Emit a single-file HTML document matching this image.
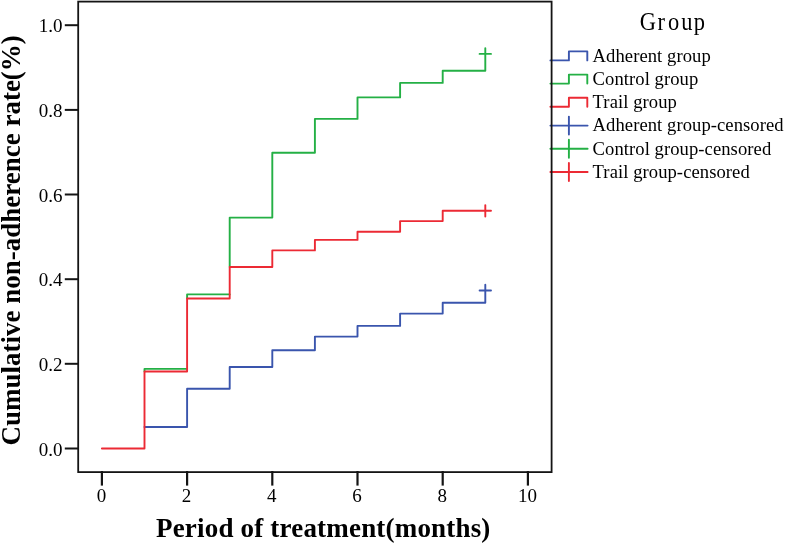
<!DOCTYPE html>
<html><head><meta charset="utf-8"><style>
html,body{margin:0;padding:0;background:#fff;}
svg{display:block;}
.t{font-family:"Liberation Serif",serif;font-size:19px;fill:#000;}
.lg{font-family:"Liberation Serif",serif;font-size:18.6px;letter-spacing:0.07px;fill:#000;}
.ti{font-family:"Liberation Serif",serif;font-size:27px;font-weight:bold;fill:#000;}
.gr{font-family:"Liberation Serif",serif;font-size:25.5px;fill:#000;}
</style></head><body>
<svg width="785" height="543" viewBox="0 0 785 543">
<rect width="785" height="543" fill="#fff"/>
<path d="M550.4 60.4 H568.9 V51.4 H587.3 V60.4" stroke="#3a55ad" stroke-width="1.9" stroke-linecap="round" stroke-linejoin="round" fill="none"/><path d="M550.4 83.6 H568.9 V74.6 H587.3 V83.6" stroke="#24b045" stroke-width="1.9" stroke-linecap="round" stroke-linejoin="round" fill="none"/><path d="M550.4 106.8 H568.9 V97.8 H587.3 V106.8" stroke="#ec2a34" stroke-width="1.9" stroke-linecap="round" stroke-linejoin="round" fill="none"/><path d="M550.4 125.6 H587.6 M568.9 116.6 V134.6" stroke="#3a55ad" stroke-width="1.9" stroke-linecap="round" fill="none"/><path d="M550.4 148.8 H587.6 M568.9 139.8 V157.8" stroke="#24b045" stroke-width="1.9" stroke-linecap="round" fill="none"/><path d="M550.4 172.0 H587.6 M568.9 163.0 V181.0" stroke="#ec2a34" stroke-width="1.9" stroke-linecap="round" fill="none"/>
<path d="M144.5 427.0 H187.1 V388.7 H229.7 V367.0 H272.3 V350.3 H314.9 V336.6 H357.5 V325.9 H400.1 V313.6 H442.7 V302.8 H485.3 V290.5 V284.8 M479.6 290.5 H491.0" stroke="#3a55ad" stroke-width="1.9" stroke-linecap="round" stroke-linejoin="round" fill="none"/><path d="M144.5 371.5 V368.9 H187.1 M187.1 298.5 V294.4 H229.7 M229.7 267.0 V217.6 H272.3 V152.7 H314.9 V118.9 H357.5 V97.4 H400.1 V82.9 H442.7 V70.8 H485.3 V53.9 V48.2 M479.6 53.9 H491.0" stroke="#24b045" stroke-width="1.9" stroke-linecap="round" stroke-linejoin="round" fill="none"/><path d="M101.9 448.5 H144.5 V371.5 H187.1 V298.5 H229.7 V267.0 H272.3 V250.4 H314.9 V239.9 H357.5 V231.7 H400.1 V221.1 H442.7 V210.8 H491.0 M485.3 205.1 V216.5" stroke="#ec2a34" stroke-width="1.9" stroke-linecap="round" stroke-linejoin="round" fill="none"/><rect x="78.2" y="1.6" width="473.4" height="470.5" fill="none" stroke="#141414" stroke-width="1.8"/><path d="M64.8 448.5 H78" stroke="#141414" stroke-width="2"/><path d="M64.8 363.8 H78" stroke="#141414" stroke-width="2"/><path d="M64.8 279.2 H78" stroke="#141414" stroke-width="2"/><path d="M64.8 194.5 H78" stroke="#141414" stroke-width="2"/><path d="M64.8 109.9 H78" stroke="#141414" stroke-width="2"/><path d="M64.8 25.2 H78" stroke="#141414" stroke-width="2"/><path d="M101.9 471 V485.6" stroke="#141414" stroke-width="2.2"/><path d="M187.1 471 V485.6" stroke="#141414" stroke-width="2.2"/><path d="M272.3 471 V485.6" stroke="#141414" stroke-width="2.2"/><path d="M357.5 471 V485.6" stroke="#141414" stroke-width="2.2"/><path d="M442.7 471 V485.6" stroke="#141414" stroke-width="2.2"/><path d="M527.9 471 V485.6" stroke="#141414" stroke-width="2.2"/>
<g class="t"><text x="62.5" y="455.5" text-anchor="end">0.0</text><text x="62.5" y="370.8" text-anchor="end">0.2</text><text x="62.5" y="286.2" text-anchor="end">0.4</text><text x="62.5" y="201.5" text-anchor="end">0.6</text><text x="62.5" y="116.9" text-anchor="end">0.8</text><text x="62.5" y="32.2" text-anchor="end">1.0</text><text x="101.4" y="502.0" text-anchor="middle">0</text><text x="186.6" y="502.0" text-anchor="middle">2</text><text x="271.8" y="502.0" text-anchor="middle">4</text><text x="357.0" y="502.0" text-anchor="middle">6</text><text x="442.2" y="502.0" text-anchor="middle">8</text><text x="527.4" y="502.0" text-anchor="middle">10</text></g>
<g class="lg"><text x="592.6" y="61.8">Adherent group</text><text x="592.6" y="85.0">Control group</text><text x="592.6" y="108.2">Trail group</text><text x="592.6" y="131.4">Adherent group-censored</text><text x="592.6" y="154.6">Control group-censored</text><text x="592.6" y="177.8">Trail group-censored</text></g>
<text class="gr" transform="scale(0.88,1)" y="29.6" x="727.0 747.2 759.0 774.2 788.5">Group</text>
<text class="ti" x="156" y="537" letter-spacing="0.19">Period of treatment(months)</text>
<text class="ti" transform="translate(19.5,445.6) rotate(-90)" x="0" y="0">Cumulative non-adherence rate(%)</text>
</svg>
</body></html>
